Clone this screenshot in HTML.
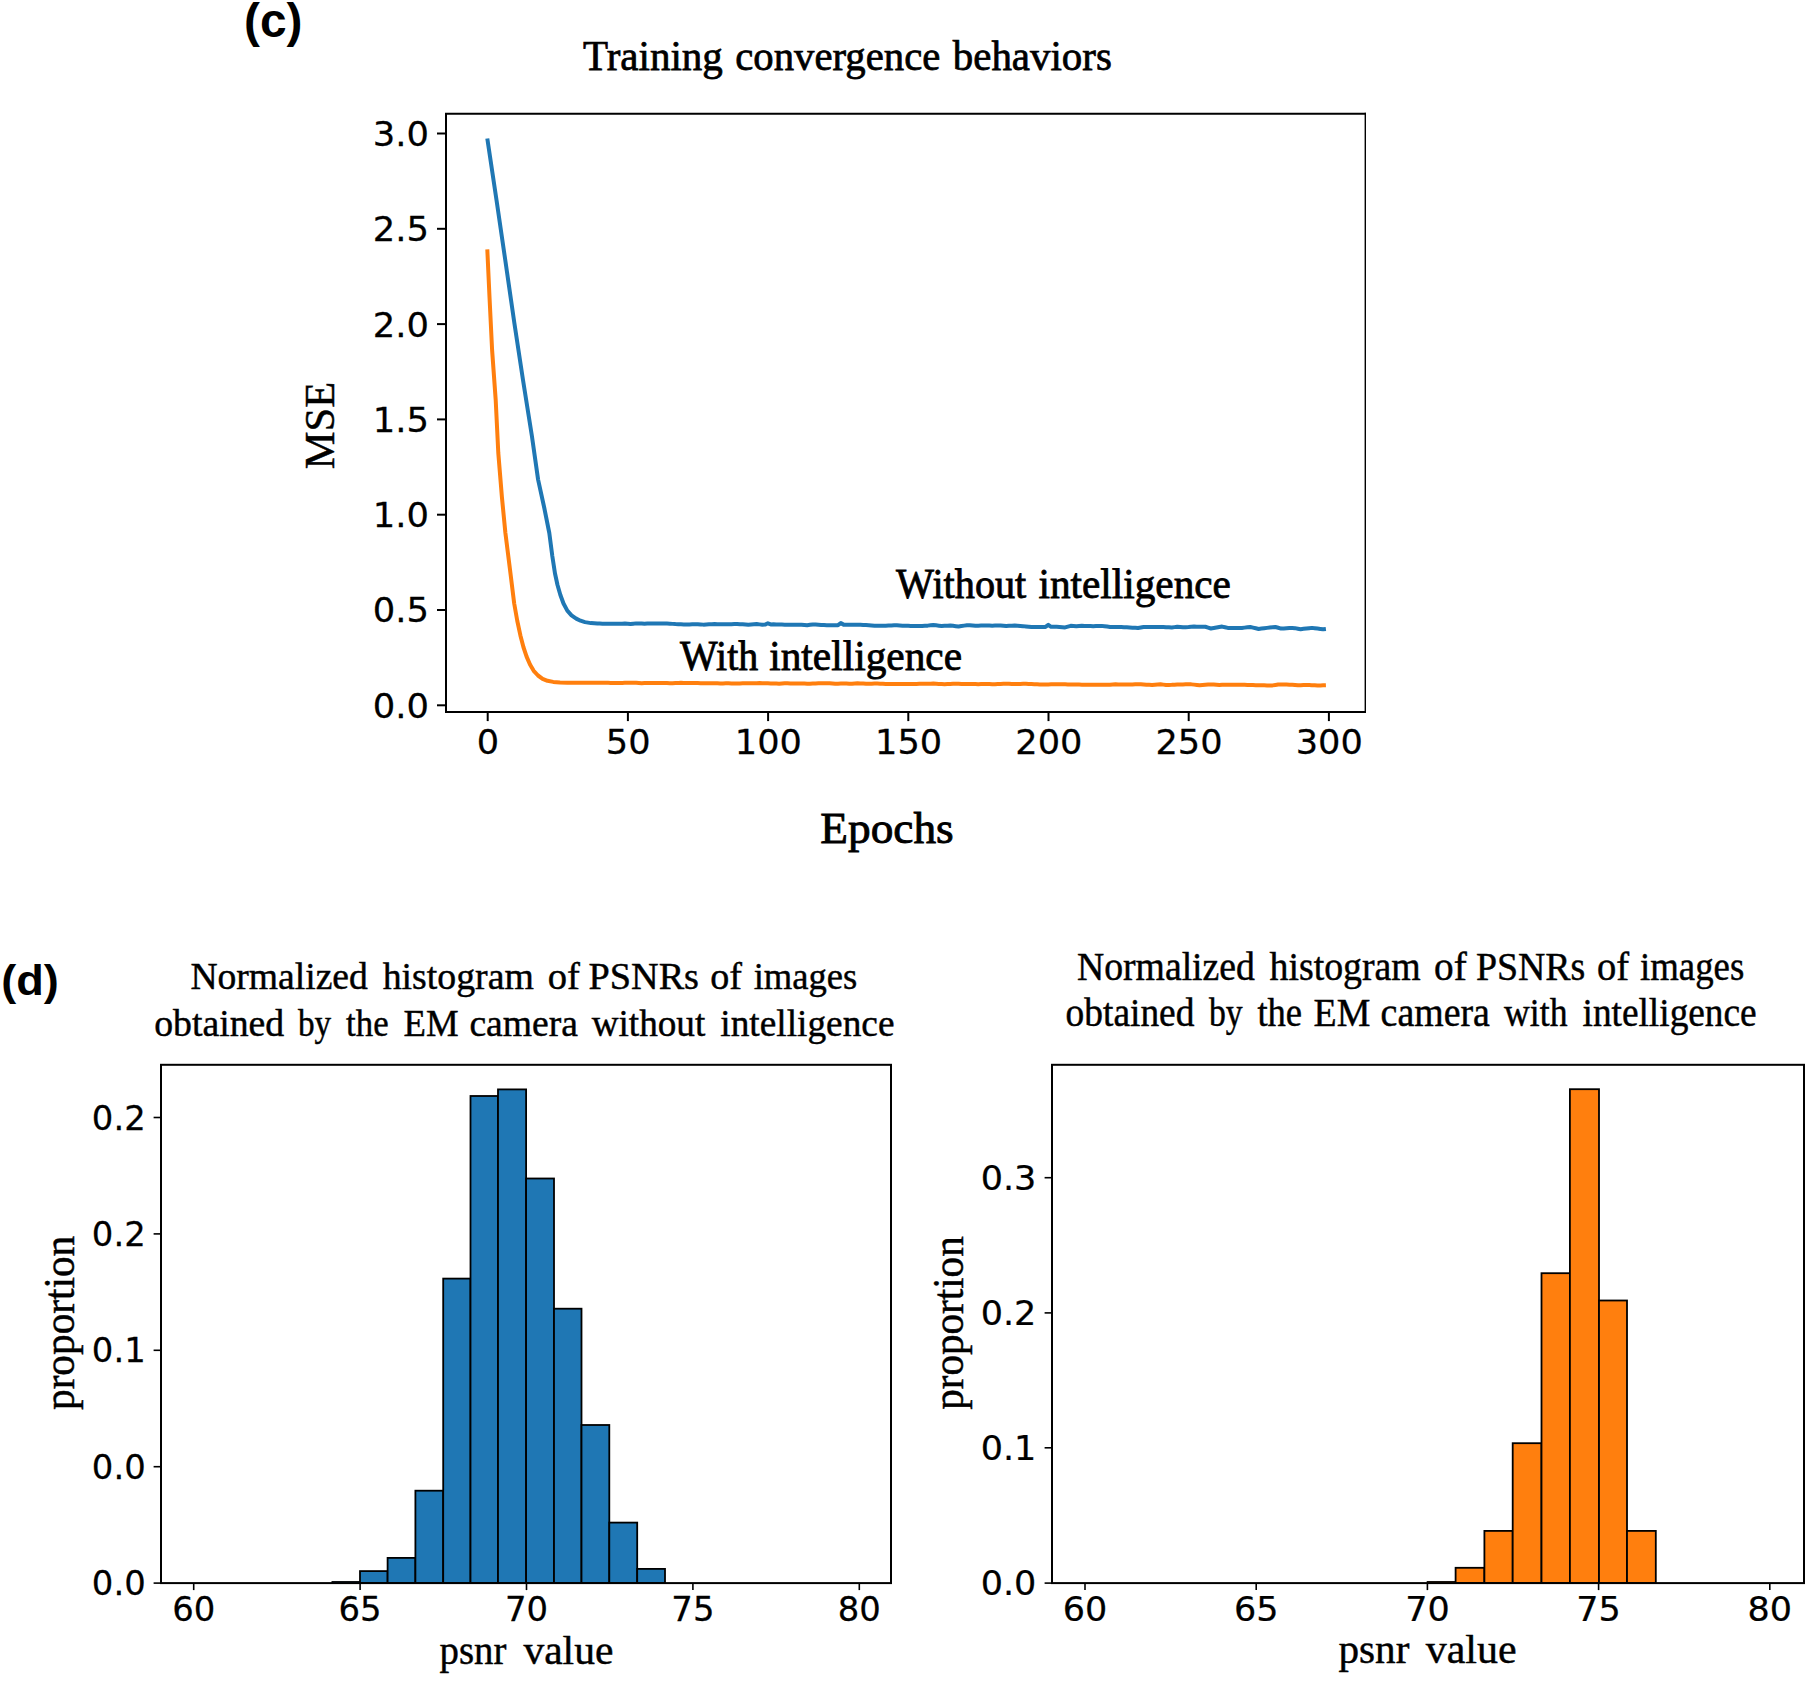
<!DOCTYPE html>
<html lang="en"><head><meta charset="utf-8"><title>Training convergence and PSNR histograms</title>
<style>
html,body{margin:0;padding:0;background:#fff;}
body{width:1818px;height:1695px;overflow:hidden;}
svg{display:block;}
text{fill:#000;}
.se{font-family:"Liberation Serif", "DejaVu Serif", serif;stroke:#000;stroke-width:0.45px;}
.sa{font-family:"DejaVu Sans", "Liberation Sans", sans-serif;stroke:#000;stroke-width:0.25px;}
.bo{font-family:"Liberation Sans", "DejaVu Sans", sans-serif;font-weight:bold;}
</style></head><body>
<svg width="1818" height="1695" viewBox="0 0 1818 1695">
<rect width="1818" height="1695" fill="#fff"/>
<path d="M1365.8500000000001 113.8 H446.0 V712.1 H1365.8500000000001" fill="none" stroke="#000" stroke-width="2" stroke-linejoin="miter"/>
<line x1="1365.3" y1="112.8" x2="1365.3" y2="713.1" stroke="#000" stroke-width="1.4"/>
<line x1="437.0" y1="705.3" x2="446.0" y2="705.3" stroke="#000" stroke-width="2"/>
<text class="sa" transform="translate(428.9 717.7) scale(1.04 1)" font-size="34" text-anchor="end">0.0</text>
<line x1="437.0" y1="610.0" x2="446.0" y2="610.0" stroke="#000" stroke-width="2"/>
<text class="sa" transform="translate(428.9 622.4) scale(1.04 1)" font-size="34" text-anchor="end">0.5</text>
<line x1="437.0" y1="514.7" x2="446.0" y2="514.7" stroke="#000" stroke-width="2"/>
<text class="sa" transform="translate(428.9 527.1) scale(1.04 1)" font-size="34" text-anchor="end">1.0</text>
<line x1="437.0" y1="419.4" x2="446.0" y2="419.4" stroke="#000" stroke-width="2"/>
<text class="sa" transform="translate(428.9 431.8) scale(1.04 1)" font-size="34" text-anchor="end">1.5</text>
<line x1="437.0" y1="324.1" x2="446.0" y2="324.1" stroke="#000" stroke-width="2"/>
<text class="sa" transform="translate(428.9 336.5) scale(1.04 1)" font-size="34" text-anchor="end">2.0</text>
<line x1="437.0" y1="228.8" x2="446.0" y2="228.8" stroke="#000" stroke-width="2"/>
<text class="sa" transform="translate(428.9 241.2) scale(1.04 1)" font-size="34" text-anchor="end">2.5</text>
<line x1="437.0" y1="133.5" x2="446.0" y2="133.5" stroke="#000" stroke-width="2"/>
<text class="sa" transform="translate(428.9 145.9) scale(1.04 1)" font-size="34" text-anchor="end">3.0</text>
<line x1="487.7" y1="712.1" x2="487.7" y2="721.1" stroke="#000" stroke-width="2"/>
<text class="sa" transform="translate(488.0 754.2) scale(1.04 1)" font-size="33.8" text-anchor="middle">0</text>
<line x1="627.9" y1="712.1" x2="627.9" y2="721.1" stroke="#000" stroke-width="2"/>
<text class="sa" transform="translate(628.2 754.2) scale(1.04 1)" font-size="33.8" text-anchor="middle">50</text>
<line x1="768.1" y1="712.1" x2="768.1" y2="721.1" stroke="#000" stroke-width="2"/>
<text class="sa" transform="translate(768.4 754.2) scale(1.04 1)" font-size="33.8" text-anchor="middle">100</text>
<line x1="908.3" y1="712.1" x2="908.3" y2="721.1" stroke="#000" stroke-width="2"/>
<text class="sa" transform="translate(908.6 754.2) scale(1.04 1)" font-size="33.8" text-anchor="middle">150</text>
<line x1="1048.5" y1="712.1" x2="1048.5" y2="721.1" stroke="#000" stroke-width="2"/>
<text class="sa" transform="translate(1048.8 754.2) scale(1.04 1)" font-size="33.8" text-anchor="middle">200</text>
<line x1="1188.7" y1="712.1" x2="1188.7" y2="721.1" stroke="#000" stroke-width="2"/>
<text class="sa" transform="translate(1189.0 754.2) scale(1.04 1)" font-size="33.8" text-anchor="middle">250</text>
<line x1="1328.9" y1="712.1" x2="1328.9" y2="721.1" stroke="#000" stroke-width="2"/>
<text class="sa" transform="translate(1329.2 754.2) scale(1.04 1)" font-size="33.8" text-anchor="middle">300</text>
<polyline fill="none" stroke="#ff7f0e" stroke-width="4" stroke-linejoin="round" points="487.3,249.4 489.5,297 492.1,350 495.7,400 498.3,453 501.9,497 505.4,533 509.8,568 514.2,603.5 517.2,620.5 520.4,635.4 523.4,647 526.6,656.6 530,664.5 533.7,670.8 538,675.5 542.6,678.8 547.5,680.8 553.2,681.9 560,682.5 567.3,682.7 568.8,682.74 571.6,682.79 574.4,682.77 577.2,682.76 580.0,682.74 582.8,682.72 585.6,682.69 588.4,682.74 591.2,682.78 594.1,682.77 596.9,682.76 599.7,682.75 602.5,682.73 605.3,682.8 608.1,682.87 610.9,682.92 613.7,682.98 616.5,682.98 619.3,682.98 622.1,682.97 624.9,682.86 627.7,682.75 630.5,682.78 633.3,682.82 636.1,682.85 638.9,683.0 641.7,683.16 644.5,683.09 647.3,683.02 650.1,682.94 652.9,683.01 655.7,683.07 658.5,683.04 661.3,683.01 664.2,682.98 667.0,683.07 669.8,683.16 672.6,683.25 675.4,683.12 678.2,682.98 681.0,682.85 683.8,682.89 686.6,682.94 689.4,682.97 692.2,683.01 695.0,683.07 697.8,683.12 700.6,683.18 703.4,683.22 706.2,683.25 709.0,683.29 711.8,683.33 714.6,683.35 717.4,683.37 720.2,683.39 723.0,683.38 725.8,683.37 728.6,683.36 731.4,683.38 734.3,683.4 737.1,683.43 739.9,683.46 742.7,683.35 745.5,683.25 748.3,683.24 751.1,683.24 753.9,683.19 756.7,683.13 759.5,683.08 762.3,683.15 765.1,683.23 767.9,683.31 770.7,683.39 773.5,683.48 776.3,683.56 779.1,683.65 781.9,683.42 784.7,683.19 787.5,683.32 790.3,683.45 793.1,683.59 795.9,683.54 798.7,683.49 801.5,683.56 804.4,683.62 807.2,683.68 810.0,683.75 812.8,683.59 815.6,683.44 818.4,683.29 821.2,683.29 824.0,683.29 826.8,683.3 829.6,683.3 832.4,683.52 835.2,683.73 838.0,683.65 840.8,683.58 843.6,683.56 846.4,683.54 849.2,683.67 852.0,683.8 854.8,683.56 857.6,683.32 860.4,683.41 863.2,683.5 866.0,683.66 868.8,683.82 871.6,683.72 874.5,683.62 877.3,683.52 880.1,683.66 882.9,683.79 885.7,683.92 888.5,683.96 891.3,683.99 894.1,684.0 896.9,684.01 899.7,684.01 902.5,684.01 905.3,684.0 908.1,684.0 910.9,684.0 913.7,683.94 916.5,683.88 919.3,683.82 922.1,683.77 924.9,683.72 927.7,683.68 930.5,683.64 933.3,683.6 936.1,683.75 938.9,683.89 941.7,684.02 944.6,684.15 947.4,684.07 950.2,683.99 953.0,683.84 955.8,683.7 958.6,683.81 961.4,683.92 964.2,684.04 967.0,684.02 969.8,684.01 972.6,684.05 975.4,684.09 978.2,684.13 981.0,684.12 983.8,684.1 986.6,684.09 989.4,684.07 992.2,684.2 995.0,684.33 997.8,684.11 1000.6,683.88 1003.4,683.84 1006.2,683.8 1009.0,683.75 1011.8,683.94 1014.7,684.12 1017.5,684.04 1020.3,683.95 1023.1,683.87 1025.9,683.79 1028.7,683.96 1031.5,684.12 1034.3,684.23 1037.1,684.35 1039.9,684.46 1042.7,684.57 1045.5,684.49 1048.3,684.41 1051.1,684.33 1053.9,684.25 1056.7,684.24 1059.5,684.23 1062.3,684.23 1065.1,684.31 1067.9,684.39 1070.7,684.47 1073.5,684.55 1076.3,684.58 1079.1,684.62 1081.9,684.66 1084.8,684.69 1087.6,684.69 1090.4,684.69 1093.2,684.68 1096.0,684.68 1098.8,684.7 1101.6,684.72 1104.4,684.75 1107.2,684.72 1110.0,684.7 1112.8,684.53 1115.6,684.36 1118.4,684.38 1121.2,684.4 1124.0,684.41 1126.8,684.52 1129.6,684.62 1132.4,684.46 1135.2,684.3 1138.0,684.14 1140.8,684.35 1143.6,684.56 1146.4,684.77 1149.2,684.85 1152.0,684.93 1154.9,684.71 1157.7,684.49 1160.5,684.27 1163.3,684.63 1166.1,685.0 1168.9,684.91 1171.7,684.83 1174.5,684.68 1177.3,684.54 1180.1,684.48 1182.9,684.42 1185.7,684.36 1188.5,684.36 1191.3,684.37 1194.1,684.63 1196.9,684.89 1199.7,685.14 1202.5,684.96 1205.3,684.77 1208.1,684.58 1210.9,684.6 1213.7,684.61 1216.5,684.79 1219.3,684.97 1222.1,684.8 1225.0,684.63 1227.8,684.67 1230.6,684.71 1233.4,684.75 1236.2,684.73 1239.0,684.72 1241.8,684.78 1244.6,684.85 1247.4,684.91 1250.2,684.98 1253.0,685.07 1255.8,685.15 1258.6,685.24 1261.4,685.33 1264.2,685.35 1267.0,685.38 1269.8,685.38 1272.6,685.38 1275.4,684.97 1278.2,684.55 1281.0,684.54 1283.8,684.54 1286.6,684.53 1289.4,684.65 1292.2,684.77 1295.1,685.05 1297.9,685.32 1300.7,685.2 1303.5,685.07 1306.3,684.95 1309.1,685.08 1311.9,685.22 1314.7,685.35 1317.5,685.49 1320.3,685.39 1323.1,685.3 1325.9,685.2"/>
<polyline fill="none" stroke="#1f77b4" stroke-width="4" stroke-linejoin="round" points="487.3,138.5 496.5,200 505.4,261 514.2,322 523,380 531.9,436 538.1,479.6 544.3,508 549.3,533 552.3,556 555,573.5 557.5,585 560.3,594.7 563.5,603.5 567.3,610.6 571.5,615.3 576.2,618.6 580.5,620.7 585,622.1 591,623.1 597.4,623.5 599.7,623.61 602.5,623.73 605.3,623.86 608.1,623.81 610.9,623.75 613.7,623.7 616.5,623.79 619.3,623.87 622.1,623.72 624.9,623.56 627.7,623.79 630.5,624.02 633.3,623.7 636.1,623.38 638.9,623.5 641.7,623.61 644.5,623.73 647.3,623.61 650.1,623.5 652.9,623.51 655.7,623.51 658.5,623.52 661.3,623.55 664.2,623.58 667.0,623.61 669.8,623.64 672.6,623.88 675.4,624.11 678.2,624.21 681.0,624.3 683.8,624.39 686.6,624.48 689.4,624.42 692.2,624.35 695.0,624.29 697.8,624.23 700.6,624.43 703.4,624.63 706.2,624.46 709.0,624.28 711.8,624.17 714.6,624.06 717.4,624.2 720.2,624.34 723.0,624.3 725.8,624.26 728.6,624.22 731.4,624.18 734.3,624.09 737.1,624.0 739.9,624.16 742.7,624.32 745.5,624.47 748.3,624.63 751.1,624.45 753.9,624.28 756.7,624.11 759.5,624.38 762.3,624.64 765.1,624.56 767.9,623.28 770.7,624.4 773.5,624.32 776.3,624.4 779.1,624.48 781.9,624.56 784.7,624.64 787.5,624.67 790.3,624.71 793.1,624.74 795.9,624.72 798.7,624.69 801.5,624.67 804.4,624.95 807.2,625.22 810.0,624.81 812.8,624.41 815.6,624.6 818.4,624.8 821.2,624.99 824.0,625.1 826.8,625.2 829.6,625.3 832.4,625.27 835.2,625.24 838.0,625.21 840.8,623.12 843.6,624.63 846.4,624.66 849.2,624.7 852.0,624.74 854.8,624.75 857.6,624.76 860.4,624.77 863.2,624.9 866.0,625.04 868.8,625.18 871.6,625.42 874.5,625.67 877.3,625.7 880.1,625.73 882.9,625.76 885.7,625.79 888.5,625.6 891.3,625.41 894.1,625.22 896.9,625.36 899.7,625.5 902.5,625.63 905.3,625.73 908.1,625.82 910.9,625.91 913.7,626.0 916.5,626.05 919.3,626.11 922.1,625.95 924.9,625.79 927.7,625.63 930.5,625.34 933.3,625.05 936.1,625.36 938.9,625.67 941.7,625.98 944.6,625.82 947.4,625.65 950.2,625.49 953.0,625.82 955.8,626.14 958.6,626.47 961.4,626.04 964.2,625.61 967.0,625.18 969.8,625.37 972.6,625.56 975.4,625.76 978.2,625.68 981.0,625.6 983.8,625.52 986.6,625.44 989.4,625.54 992.2,625.64 995.0,625.61 997.8,625.57 1000.6,625.54 1003.4,625.78 1006.2,626.02 1009.0,625.86 1011.8,625.7 1014.7,625.54 1017.5,625.74 1020.3,625.94 1023.1,626.13 1025.9,626.42 1028.7,626.72 1031.5,627.01 1034.3,627.02 1037.1,627.03 1039.9,627.04 1042.7,626.97 1045.5,626.9 1048.3,624.83 1051.1,626.83 1053.9,626.84 1056.7,626.84 1059.5,627.03 1062.3,627.21 1065.1,627.4 1067.9,626.63 1070.7,625.86 1073.5,626.01 1076.3,626.16 1079.1,625.98 1081.9,625.8 1084.8,625.89 1087.6,625.98 1090.4,626.08 1093.2,626.17 1096.0,626.08 1098.8,625.98 1101.6,625.89 1104.4,626.24 1107.2,626.59 1110.0,626.94 1112.8,626.97 1115.6,627.01 1118.4,627.04 1121.2,627.07 1124.0,627.21 1126.8,627.35 1129.6,627.5 1132.4,627.65 1135.2,627.79 1138.0,627.94 1140.8,627.48 1143.6,627.01 1146.4,627.0 1149.2,626.98 1152.0,626.97 1154.9,626.95 1157.7,626.97 1160.5,626.99 1163.3,627.01 1166.1,627.19 1168.9,627.37 1171.7,627.55 1174.5,627.12 1177.3,626.68 1180.1,626.96 1182.9,627.23 1185.7,627.15 1188.5,627.06 1191.3,626.83 1194.1,626.6 1196.9,626.64 1199.7,626.68 1202.5,626.72 1205.3,626.76 1208.1,627.63 1210.9,628.5 1213.7,628.02 1216.5,627.54 1219.3,627.07 1222.1,626.59 1225.0,627.24 1227.8,627.9 1230.6,627.94 1233.4,627.98 1236.2,627.98 1239.0,627.97 1241.8,627.97 1244.6,627.63 1247.4,627.3 1250.2,626.96 1253.0,627.63 1255.8,628.29 1258.6,628.96 1261.4,628.6 1264.2,628.23 1267.0,627.87 1269.8,627.58 1272.6,627.3 1275.4,627.02 1278.2,627.8 1281.0,628.58 1283.8,628.39 1286.6,628.2 1289.4,628.01 1292.2,628.07 1295.1,628.13 1297.9,628.66 1300.7,629.19 1303.5,628.86 1306.3,628.53 1309.1,628.21 1311.9,627.88 1314.7,628.23 1317.5,628.58 1320.3,628.92 1323.1,629.27 1325.9,628.92"/>
<text class="se" y="69.8" font-size="42.2" style="stroke-width:0.75px"><tspan x="583.1" textLength="139.7" lengthAdjust="spacingAndGlyphs">Training</tspan> <tspan x="735.3" textLength="205.0" lengthAdjust="spacingAndGlyphs">convergence</tspan> <tspan x="952.8" textLength="159.0" lengthAdjust="spacingAndGlyphs">behaviors</tspan></text>
<text class="se" y="598.3" font-size="42" style="stroke-width:0.8px"><tspan x="896.1" textLength="130.2" lengthAdjust="spacingAndGlyphs">Without</tspan> <tspan x="1038.5" textLength="192.4" lengthAdjust="spacingAndGlyphs">intelligence</tspan></text>
<text class="se" y="670.3" font-size="42" style="stroke-width:0.8px"><tspan x="680.1" textLength="78.1" lengthAdjust="spacingAndGlyphs">With</tspan> <tspan x="769.2" textLength="192.9" lengthAdjust="spacingAndGlyphs">intelligence</tspan></text>
<text class="se" x="820.3" y="842.7" font-size="45" textLength="133.4" lengthAdjust="spacingAndGlyphs" style="stroke-width:0.9px">Epochs</text>
<text class="se" x="334.2" y="469.2" font-size="42.5" textLength="87.5" lengthAdjust="spacingAndGlyphs" transform="rotate(-90 334.2 469.2)">MSE</text>
<text class="bo" x="244.1" y="37.2" font-size="47.8">(c)</text>
<rect x="332" y="1581.6" width="28" height="1.5" fill="#1f77b4" stroke="#000" stroke-width="1"/>
<rect x="360.0" y="1571.1" width="27.6" height="12.0" fill="#1f77b4" stroke="#000" stroke-width="1.8"/>
<rect x="387.6" y="1557.9" width="27.8" height="25.2" fill="#1f77b4" stroke="#000" stroke-width="1.8"/>
<rect x="415.4" y="1490.7" width="27.8" height="92.4" fill="#1f77b4" stroke="#000" stroke-width="1.8"/>
<rect x="443.2" y="1278.6" width="27.3" height="304.5" fill="#1f77b4" stroke="#000" stroke-width="1.8"/>
<rect x="470.5" y="1096" width="27.5" height="487.1" fill="#1f77b4" stroke="#000" stroke-width="1.8"/>
<rect x="498.0" y="1089.4" width="28.1" height="493.7" fill="#1f77b4" stroke="#000" stroke-width="1.8"/>
<rect x="526.1" y="1178.5" width="27.9" height="404.6" fill="#1f77b4" stroke="#000" stroke-width="1.8"/>
<rect x="554.0" y="1308.7" width="27.5" height="274.4" fill="#1f77b4" stroke="#000" stroke-width="1.8"/>
<rect x="581.5" y="1425" width="27.8" height="158.1" fill="#1f77b4" stroke="#000" stroke-width="1.8"/>
<rect x="609.3" y="1522.6" width="27.9" height="60.5" fill="#1f77b4" stroke="#000" stroke-width="1.8"/>
<rect x="637.2" y="1568.9" width="27.8" height="14.2" fill="#1f77b4" stroke="#000" stroke-width="1.8"/>
<rect x="161.0" y="1064.8" width="730.0" height="518.3" fill="none" stroke="#000" stroke-width="2"/>
<line x1="193.7" y1="1583.1" x2="193.7" y2="1590.1" stroke="#000" stroke-width="1.6"/>
<text class="sa" transform="translate(193.7 1620.5) scale(1.02 1)" font-size="33.2" text-anchor="middle">60</text>
<line x1="360.1" y1="1583.1" x2="360.1" y2="1590.1" stroke="#000" stroke-width="1.6"/>
<text class="sa" transform="translate(360.1 1620.5) scale(1.02 1)" font-size="33.2" text-anchor="middle">65</text>
<line x1="526.5" y1="1583.1" x2="526.5" y2="1590.1" stroke="#000" stroke-width="1.6"/>
<text class="sa" transform="translate(526.5 1620.5) scale(1.02 1)" font-size="33.2" text-anchor="middle">70</text>
<line x1="692.9" y1="1583.1" x2="692.9" y2="1590.1" stroke="#000" stroke-width="1.6"/>
<text class="sa" transform="translate(692.9 1620.5) scale(1.02 1)" font-size="33.2" text-anchor="middle">75</text>
<line x1="859.3" y1="1583.1" x2="859.3" y2="1590.1" stroke="#000" stroke-width="1.6"/>
<text class="sa" transform="translate(859.3 1620.5) scale(1.02 1)" font-size="33.2" text-anchor="middle">80</text>
<line x1="153.6" y1="1583.1" x2="161.0" y2="1583.1" stroke="#000" stroke-width="1.6"/>
<text class="sa" transform="translate(145.7 1595.2) scale(1.02 1)" font-size="33.2" text-anchor="end">0.0</text>
<line x1="153.6" y1="1466.7" x2="161.0" y2="1466.7" stroke="#000" stroke-width="1.6"/>
<text class="sa" transform="translate(145.7 1478.8) scale(1.02 1)" font-size="33.2" text-anchor="end">0.0</text>
<line x1="153.6" y1="1350.3" x2="161.0" y2="1350.3" stroke="#000" stroke-width="1.6"/>
<text class="sa" transform="translate(145.7 1362.4) scale(1.02 1)" font-size="33.2" text-anchor="end">0.1</text>
<line x1="153.6" y1="1233.9" x2="161.0" y2="1233.9" stroke="#000" stroke-width="1.6"/>
<text class="sa" transform="translate(145.7 1246.0) scale(1.02 1)" font-size="33.2" text-anchor="end">0.2</text>
<line x1="153.6" y1="1117.5" x2="161.0" y2="1117.5" stroke="#000" stroke-width="1.6"/>
<text class="sa" transform="translate(145.7 1129.6) scale(1.02 1)" font-size="33.2" text-anchor="end">0.2</text>
<rect x="1427.2" y="1581.6" width="28.4" height="1.5" fill="#ff7f0e" stroke="#000" stroke-width="1"/>
<rect x="1455.6" y="1567.8" width="28.8" height="15.3" fill="#ff7f0e" stroke="#000" stroke-width="1.8"/>
<rect x="1484.4" y="1530.9" width="28.3" height="52.2" fill="#ff7f0e" stroke="#000" stroke-width="1.8"/>
<rect x="1512.7" y="1443.2" width="28.8" height="139.9" fill="#ff7f0e" stroke="#000" stroke-width="1.8"/>
<rect x="1541.5" y="1273.2" width="28.4" height="309.9" fill="#ff7f0e" stroke="#000" stroke-width="1.8"/>
<rect x="1569.9" y="1089.2" width="29.1" height="493.9" fill="#ff7f0e" stroke="#000" stroke-width="1.8"/>
<rect x="1599" y="1300.5" width="28" height="282.6" fill="#ff7f0e" stroke="#000" stroke-width="1.8"/>
<rect x="1627" y="1530.9" width="28.8" height="52.2" fill="#ff7f0e" stroke="#000" stroke-width="1.8"/>
<rect x="1052.0" y="1064.8" width="752.0" height="518.3" fill="none" stroke="#000" stroke-width="2"/>
<line x1="1085.0" y1="1583.1" x2="1085.0" y2="1590.1" stroke="#000" stroke-width="1.6"/>
<text class="sa" transform="translate(1085.0 1621.3) scale(1.045 1)" font-size="33.5" text-anchor="middle">60</text>
<line x1="1256.2" y1="1583.1" x2="1256.2" y2="1590.1" stroke="#000" stroke-width="1.6"/>
<text class="sa" transform="translate(1256.2 1621.3) scale(1.045 1)" font-size="33.5" text-anchor="middle">65</text>
<line x1="1427.4" y1="1583.1" x2="1427.4" y2="1590.1" stroke="#000" stroke-width="1.6"/>
<text class="sa" transform="translate(1427.4 1621.3) scale(1.045 1)" font-size="33.5" text-anchor="middle">70</text>
<line x1="1598.6" y1="1583.1" x2="1598.6" y2="1590.1" stroke="#000" stroke-width="1.6"/>
<text class="sa" transform="translate(1598.6 1621.3) scale(1.045 1)" font-size="33.5" text-anchor="middle">75</text>
<line x1="1769.8" y1="1583.1" x2="1769.8" y2="1590.1" stroke="#000" stroke-width="1.6"/>
<text class="sa" transform="translate(1769.8 1621.3) scale(1.045 1)" font-size="33.5" text-anchor="middle">80</text>
<line x1="1044.6" y1="1583.1" x2="1052.0" y2="1583.1" stroke="#000" stroke-width="1.6"/>
<text class="sa" transform="translate(1036.3 1595.3) scale(1.045 1)" font-size="33.5" text-anchor="end">0.0</text>
<line x1="1044.6" y1="1447.8" x2="1052.0" y2="1447.8" stroke="#000" stroke-width="1.6"/>
<text class="sa" transform="translate(1036.3 1460.0) scale(1.045 1)" font-size="33.5" text-anchor="end">0.1</text>
<line x1="1044.6" y1="1312.9" x2="1052.0" y2="1312.9" stroke="#000" stroke-width="1.6"/>
<text class="sa" transform="translate(1036.3 1325.1) scale(1.045 1)" font-size="33.5" text-anchor="end">0.2</text>
<line x1="1044.6" y1="1177.7" x2="1052.0" y2="1177.7" stroke="#000" stroke-width="1.6"/>
<text class="sa" transform="translate(1036.3 1189.9) scale(1.045 1)" font-size="33.5" text-anchor="end">0.3</text>
<text class="se" y="989.3" font-size="38.5"><tspan x="190.4" textLength="177.4" lengthAdjust="spacingAndGlyphs">Normalized</tspan> <tspan x="382.7" textLength="151.2" lengthAdjust="spacingAndGlyphs">histogram</tspan> <tspan x="547.8" textLength="32.1" lengthAdjust="spacingAndGlyphs">of</tspan> <tspan x="588.6" textLength="110.4" lengthAdjust="spacingAndGlyphs">PSNRs</tspan> <tspan x="710.2" textLength="31.7" lengthAdjust="spacingAndGlyphs">of</tspan> <tspan x="753.7" textLength="103.6" lengthAdjust="spacingAndGlyphs">images</tspan></text>
<text class="se" y="1036.2" font-size="38.5"><tspan x="154.2" textLength="130.0" lengthAdjust="spacingAndGlyphs">obtained</tspan> <tspan x="298.0" textLength="33.2" lengthAdjust="spacingAndGlyphs">by</tspan> <tspan x="346.1" textLength="42.5" lengthAdjust="spacingAndGlyphs">the</tspan> <tspan x="403.6" textLength="55.1" lengthAdjust="spacingAndGlyphs">EM</tspan> <tspan x="469.4" textLength="108.5" lengthAdjust="spacingAndGlyphs">camera</tspan> <tspan x="591.7" textLength="113.6" lengthAdjust="spacingAndGlyphs">without</tspan> <tspan x="720.3" textLength="174.2" lengthAdjust="spacingAndGlyphs">intelligence</tspan></text>
<text class="se" y="980.3" font-size="39"><tspan x="1077.0" textLength="177.9" lengthAdjust="spacingAndGlyphs">Normalized</tspan> <tspan x="1269.5" textLength="151.3" lengthAdjust="spacingAndGlyphs">histogram</tspan> <tspan x="1434.1" textLength="32.7" lengthAdjust="spacingAndGlyphs">of</tspan> <tspan x="1475.9" textLength="109.4" lengthAdjust="spacingAndGlyphs">PSNRs</tspan> <tspan x="1597.1" textLength="32.1" lengthAdjust="spacingAndGlyphs">of</tspan> <tspan x="1640.0" textLength="104.2" lengthAdjust="spacingAndGlyphs">images</tspan></text>
<text class="se" y="1026.2" font-size="39"><tspan x="1065.6" textLength="128.8" lengthAdjust="spacingAndGlyphs">obtained</tspan> <tspan x="1209.0" textLength="33.7" lengthAdjust="spacingAndGlyphs">by</tspan> <tspan x="1257.4" textLength="44.7" lengthAdjust="spacingAndGlyphs">the</tspan> <tspan x="1313.5" textLength="56.8" lengthAdjust="spacingAndGlyphs">EM</tspan> <tspan x="1380.6" textLength="109.3" lengthAdjust="spacingAndGlyphs">camera</tspan> <tspan x="1504.1" textLength="63.4" lengthAdjust="spacingAndGlyphs">with</tspan> <tspan x="1582.5" textLength="174.2" lengthAdjust="spacingAndGlyphs">intelligence</tspan></text>
<text class="se" y="1663.7" font-size="40.5"><tspan x="439.5" textLength="66.8" lengthAdjust="spacingAndGlyphs">psnr</tspan> <tspan x="523.4" textLength="90.0" lengthAdjust="spacingAndGlyphs">value</tspan></text>
<text class="se" y="1663.3" font-size="40.5"><tspan x="1338.5" textLength="70.9" lengthAdjust="spacingAndGlyphs">psnr</tspan> <tspan x="1425.8" textLength="90.8" lengthAdjust="spacingAndGlyphs">value</tspan></text>
<text class="se" x="74.3" y="1410" font-size="43.5" textLength="174.2" lengthAdjust="spacingAndGlyphs" transform="rotate(-90 74.3 1410)">proportion</text>
<text class="se" x="962.7" y="1409.8" font-size="43.5" textLength="173.5" lengthAdjust="spacingAndGlyphs" transform="rotate(-90 962.7 1409.8)">proportion</text>
<text class="bo" x="1.3" y="995.2" font-size="43.3" textLength="57.6" lengthAdjust="spacingAndGlyphs">(d)</text>
</svg>
</body></html>
